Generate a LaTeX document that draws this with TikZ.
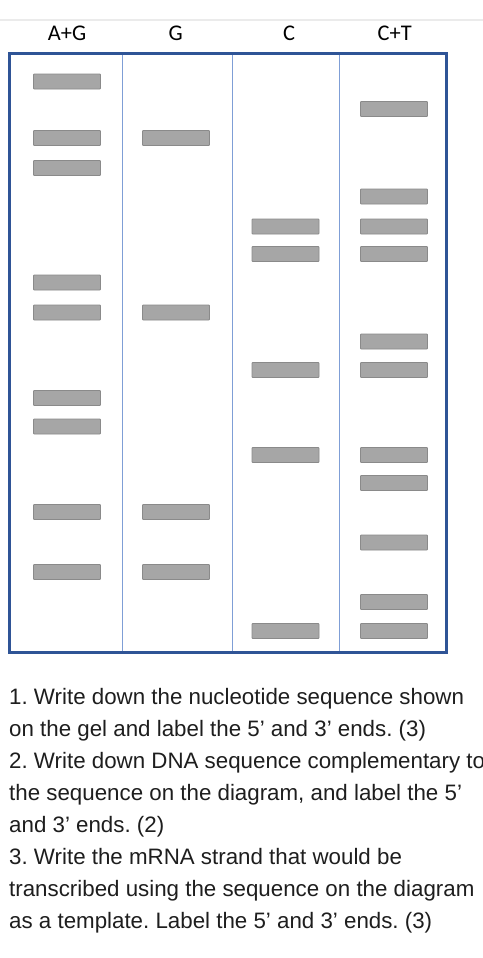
\documentclass[tikz,border=0pt]{standalone}
\usepackage{fontspec}
\setmainfont{Carlito}
\newfontfamily\qfont{Liberation Sans}
\frenchspacing
\definecolor{boxblue}{HTML}{2F5496}
\definecolor{laneblue}{HTML}{7F9ED6}
\definecolor{bandfill}{HTML}{A6A6A6}
\definecolor{bandedge}{HTML}{8A8A8A}
\definecolor{topline}{HTML}{EBEBEB}
\definecolor{qtext}{HTML}{1E1E1E}
\tikzset{
  band/.style={rectangle, fill=bandfill, draw=bandedge, line width=0.8bp, minimum width=67bp, minimum height=15bp, inner sep=0pt, rounded corners=0.8bp},
  lanelabel/.style={anchor=base, inner sep=0pt, font=\fontsize{22.5}{26}\selectfont, text=black},
  qline/.style={anchor=base west, inner sep=0pt, font=\qfont\fontsize{22.4}{25}\selectfont\frenchspacing, text=qtext},
}
\begin{document}
\begin{tikzpicture}[x=1bp,y=-1bp]
\useasboundingbox (0,0) rectangle (483,958);
\fill[white] (0,0) rectangle (483,958);
\draw[topline, line width=1.5bp] (0,20) -- (483,20);
% labels
\node[lanelabel] (lAG) at (67,40.5) {A+G};
\node[lanelabel] (lG) at (175.7,40.5) {G};
\node[lanelabel] (lC) at (289,40.5) {C};
\node[lanelabel] (lCT) at (394.7,40.5) {C+T};
% lane dividers
\draw[laneblue, line width=1bp] (122,53.5) -- (122,652.5);
\draw[laneblue, line width=1bp] (232,53.5) -- (232,652.5);
\draw[laneblue, line width=1bp] (339,53.5) -- (339,652.5);
% outer box
\draw[boxblue, line width=2.5bp] (9.5,53.5) rectangle (446.5,652.5);
% A+G bands
\foreach \y [count=\i] in {81.5,138,168,282.5,312.5,398,426.5,512,572}
  \node[band] (ag\i) at (67,\y) {};
% G bands
\foreach \y [count=\i] in {138,312.5,512,572}
  \node[band] (g\i) at (176,\y) {};
% C bands
\foreach \y [count=\i] in {226.5,254,370,455,631}
  \node[band] (c\i) at (285.5,\y) {};
% C+T bands
\foreach \y [count=\i] in {109,196.5,226.5,254,341.5,370,455,483,542.5,602,631}
  \node[band] (ct\i) at (394,\y) {};
% questions
\node[qline] (q1) at (9,704) {1. Write down the nucleotide sequence shown};
\node[qline] (q2) at (9,736) {on the gel and label the 5’ and 3’ ends. (3)};
\node[qline] (q3) at (9,768) {2. Write down DNA sequence complementary to};
\node[qline] (q4) at (9,800) {the sequence on the diagram, and label the 5’};
\node[qline] (q5) at (9,832) {and 3’ ends. (2)};
\node[qline] (q6) at (9,864) {3. Write the mRNA strand that would be};
\node[qline] (q7) at (9,896) {transcribed using the sequence on the diagram};
\node[qline] (q8) at (9,928) {as a template. Label the 5’ and 3’ ends. (3)};
\end{tikzpicture}
\end{document}
